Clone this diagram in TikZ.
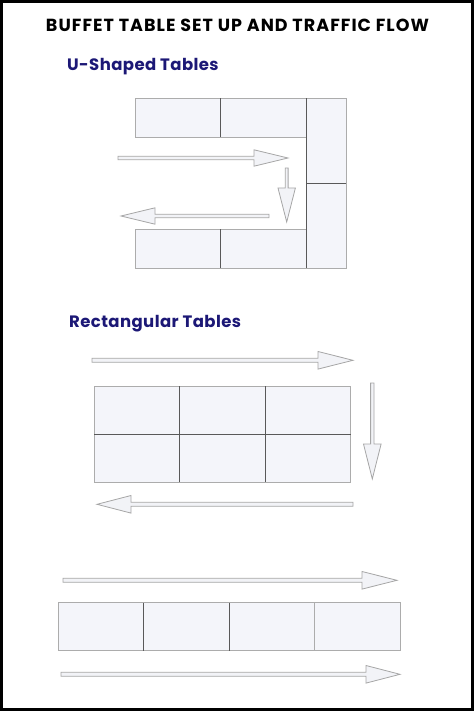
\documentclass[tikz,border=0pt]{standalone}
\usepackage{fontspec}
\setmainfont{Poppins}
\usetikzlibrary{positioning}
\definecolor{navy}{RGB}{28,24,118}
\definecolor{tablefill}{RGB}{244,245,250}
\definecolor{arrowfill}{RGB}{242,243,247}

\begin{document}
\begin{tikzpicture}[
    x=1pt, y=-1pt,
    node distance=0pt,
    heading/.style={font=\fontsize{17.5}{20}\selectfont\addfontfeatures{LetterSpace=6}\bfseries, text=black, anchor=base, inner sep=0pt},
    section/.style={font=\fontsize{16.5}{19}\selectfont\addfontfeatures{LetterSpace=2.5}\bfseries, text=navy, anchor=base west, inner sep=0pt},
    cell/.style={rectangle, draw=gray!65, fill=tablefill, line width=0.8pt, outer sep=0pt, inner sep=0pt, minimum width=85.5pt},
    ucell/.style={cell, minimum height=39pt},
    rcell/.style={cell, minimum height=48pt},
    divider/.style={draw=black!65, line width=0.8pt},
    flow/.style={draw=gray!70, fill=arrowfill, line width=0.8pt, line join=miter}
]
    \useasboundingbox (0,0) rectangle (474,711);
    \draw[line width=3pt] (1.5,1.5) rectangle (472.5,709.5);

    % Titles
    \node[heading] (title) at (237.5,31.7) {BUFFET TABLE SET UP AND TRAFFIC FLOW};
    \node[section] (ushape) at (67,70.7) {U-Shaped Tables};
    \node[section] (rect) at (69,327.7) {Rectangular Tables};

    % U-shaped tables
    \node[ucell, anchor=north west] (u1) at (135.3,98.3) {};
    \node[ucell, right=of u1] (u2) {};
    \node[ucell, minimum width=40pt, minimum height=85pt, anchor=north west] (u3) at (u2.north east) {};
    \node[ucell, minimum width=40pt, minimum height=85pt, below=of u3] (u4) {};
    \node[ucell, minimum height=39.3pt, anchor=south east] (u6) at (u4.south west) {};
    \node[ucell, minimum height=39.3pt, left=of u6] (u5) {};
    \draw[divider] (u1.north east) -- (u1.south east);
    \draw[divider] (u3.south west) -- (u3.south east);
    \draw[divider] (u5.north east) -- (u5.south east);
    \draw[divider] (u3.north west) -- (u4.south west);

    % U-shaped flow
    \draw[flow] (118,156.3) -- (254,156.3) -- (254,149.8) -- (288,158) -- (254,166.2) -- (254,159.7) -- (118,159.7) -- cycle;
    \draw[flow] (285.3,168) -- (285.3,188) -- (278,188) -- (286.7,222) -- (295.4,188) -- (288.1,188) -- (288.1,168) -- cycle;
    \draw[flow] (269,214.3) -- (155,214.3) -- (155,207.8) -- (121,216) -- (155,224.2) -- (155,217.7) -- (269,217.7) -- cycle;

    % Rectangular tables
    \node[rcell, anchor=north west] (r1) at (94.3,386) {};
    \node[rcell, right=of r1] (r2) {};
    \node[rcell, right=of r2] (r3) {};
    \node[rcell, below=of r1] (r4) {};
    \node[rcell, right=of r4] (r5) {};
    \node[rcell, right=of r5] (r6) {};
    \draw[divider] (r1.north east) -- (r4.south east);
    \draw[divider] (r2.north east) -- (r5.south east);
    \draw[divider] (r1.south west) -- (r3.south east);

    % Rectangular flow
    \draw[flow] (92,358.3) -- (318,358.3) -- (318,351.5) -- (353,360.3) -- (318,369.1) -- (318,362.3) -- (92,362.3) -- cycle;
    \draw[flow] (370.6,383) -- (370.6,444) -- (363.5,444) -- (372.3,479) -- (381.1,444) -- (374,444) -- (374,383) -- cycle;
    \draw[flow] (353,502.3) -- (131,502.3) -- (131,495.5) -- (97,504.3) -- (131,513.1) -- (131,506.3) -- (353,506.3) -- cycle;

    % Single row
    \node[rcell, anchor=north west] (s1) at (58.3,602.7) {};
    \node[rcell, right=of s1] (s2) {};
    \node[rcell, right=of s2] (s3) {};
    \node[rcell, right=of s3] (s4) {};
    \draw[divider] (s1.north east) -- (s1.south east);
    \draw[divider] (s2.north east) -- (s2.south east);
    \draw[divider, draw=gray!65] (s3.north east) -- (s3.south east);

    % Single row flow
    \draw[flow] (63,578.3) -- (362,578.3) -- (362,571.5) -- (397,580.3) -- (362,589.1) -- (362,582.3) -- (63,582.3) -- cycle;
    \draw[flow] (61,672.3) -- (366,672.3) -- (366,665.5) -- (400,674.3) -- (366,683.1) -- (366,676.3) -- (61,676.3) -- cycle;
\end{tikzpicture}
\end{document}
